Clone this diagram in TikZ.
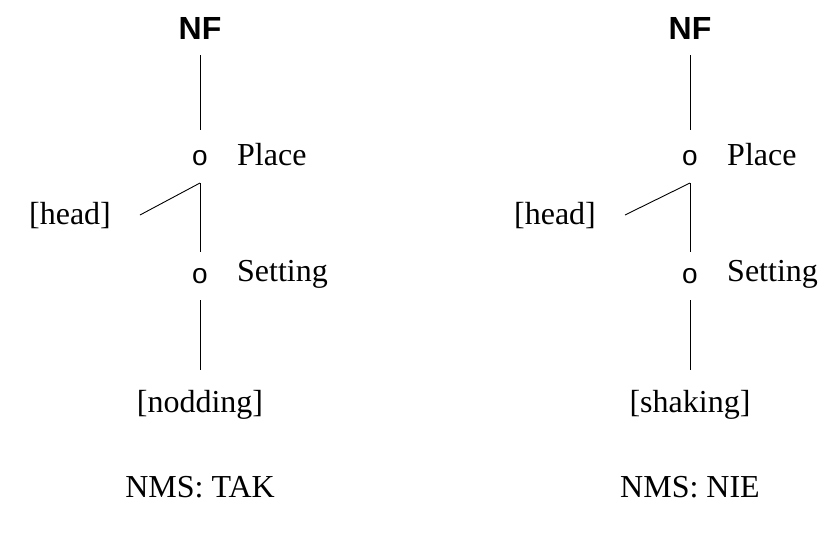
\documentclass[tikz,border=0pt]{standalone}
\usepackage{fontspec}
\setmainfont{Liberation Serif}
\setsansfont{Liberation Sans}
\begin{document}
\begin{tikzpicture}[x=1pt,y=-1pt,
  lbl/.style={font=\fontsize{32}{36}\selectfont, inner sep=0pt},
  nf/.style={font=\sffamily\bfseries\fontsize{32}{36}\selectfont, inner sep=0pt},
  ring/.style={font=\sffamily\fontsize{28}{32}\selectfont, inner sep=0pt},
  ln/.style={line width=0.9pt}]
\useasboundingbox (0,0) rectangle (832,533);
\foreach \X/\w/\n/\hx/\nm in {200/nodding/L/70/TAK, 690/shaking/R/555/NIE}{
  \node[nf] (nf\n) at (\X,28) {NF};
  \node[ring] (o1\n) at (\X,158) {o};
  \node[lbl,anchor=west] (pl\n) at (\X+37,155) {Place};
  \node[lbl] (hd\n) at (\hx,216) {[head]};
  \node[ring] (o2\n) at (\X,276) {o};
  \node[lbl,anchor=west] (st\n) at (\X+37,274) {Setting};
  \node[lbl] (bt\n) at (\X,405) {[\w]};
  \node[lbl] (nm\n) at (\X,487) {NMS: \nm};
  \coordinate (j\n) at (\X,183);
  \coordinate (h\n) at (\hx+70,215);
  \draw[ln] (\X,55) -- (\X,130);
  \draw[ln] (j\n) -- (\X,252);
  \draw[ln] (j\n) -- (h\n);
  \draw[ln] (\X,300) -- (\X,370);
}
\end{tikzpicture}
\end{document}
